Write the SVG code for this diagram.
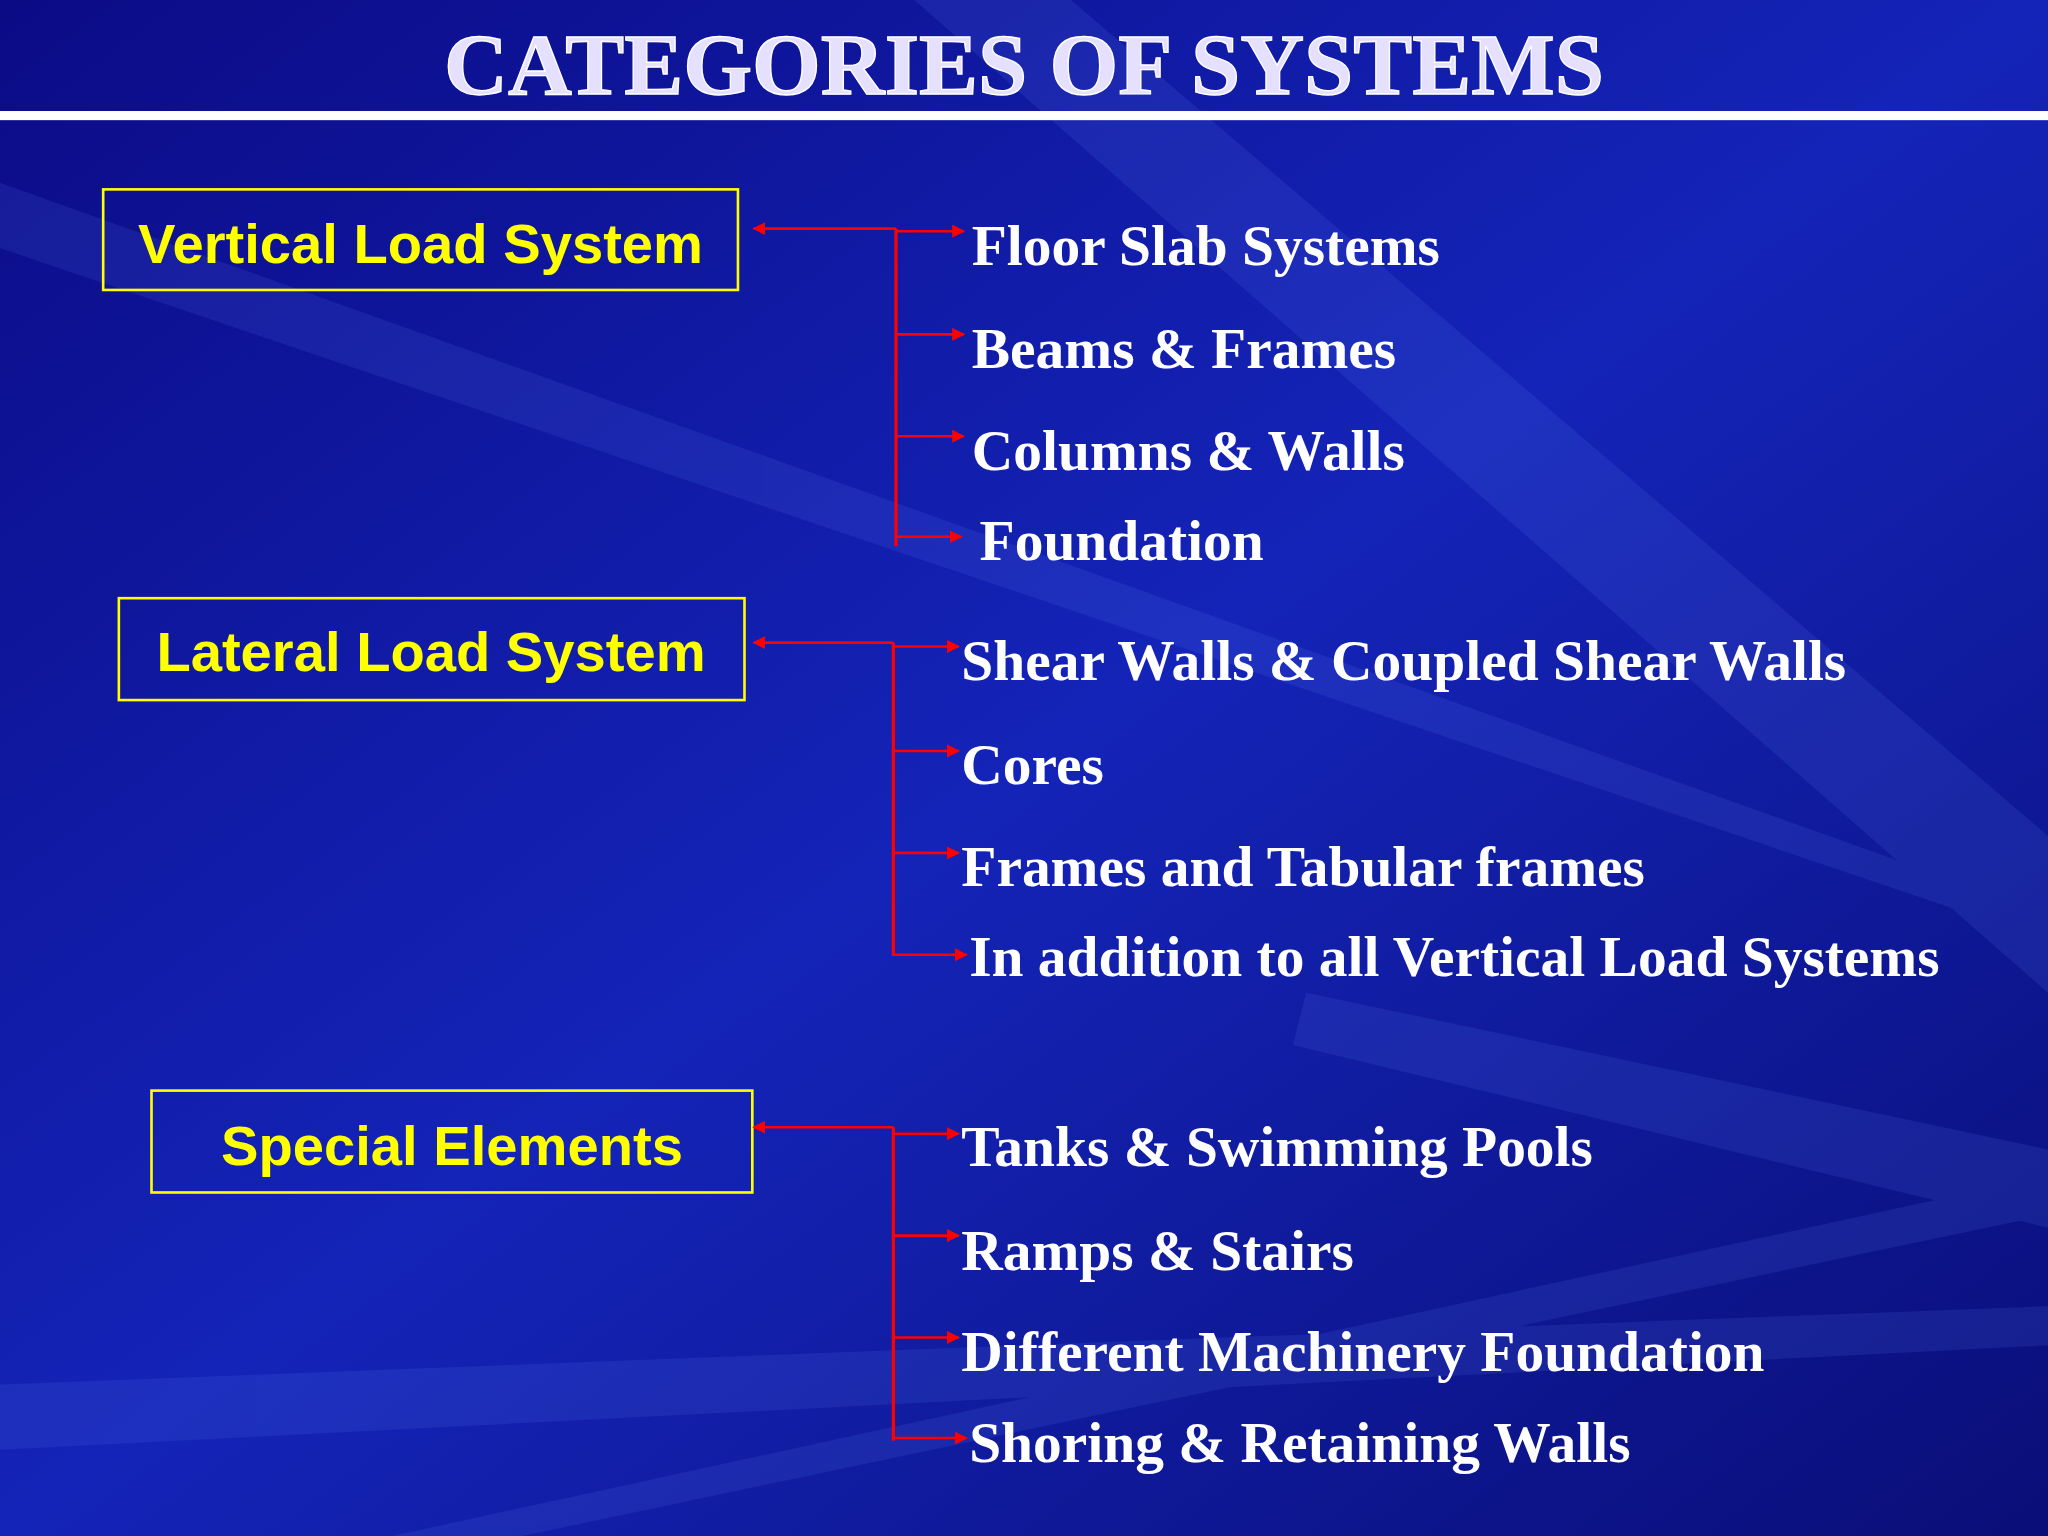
<svg xmlns="http://www.w3.org/2000/svg" width="2048" height="1536" viewBox="0 0 2048 1536">
<defs>
<linearGradient id="bg" x1="0" y1="0" x2="1" y2="1">
<stop offset="0" stop-color="#0b0b86"/><stop offset="0.5" stop-color="#1424b8"/><stop offset="1" stop-color="#0a0e78"/>
</linearGradient>
<marker id="ah" viewBox="0 0 10 10" refX="9" refY="5" markerWidth="5" markerHeight="5" orient="auto-start-reverse"><path d="M0,0L10,5L0,10z" fill="#ff0000"/></marker>
<style>
.box{fill:none;stroke:#ffff00;stroke-width:2}
.bt{font-family:"Liberation Sans",Arial,sans-serif;font-weight:bold;font-size:43px;fill:#ffff00;text-anchor:middle}
.it{font-family:"Liberation Serif","Times New Roman",serif;font-weight:bold;font-size:44px;fill:#ffffff}
.c{stroke:#ff0000;stroke-width:2.5;fill:none}
.a{stroke:#ff0000;stroke-width:2;fill:none;marker-end:url(#ah)}
</style>
</defs>
<rect width="2048" height="1536" fill="url(#bg)"/>
<g transform="scale(1.30612)">
<g opacity="0.12" fill="#6a8cff">
<polygon points="1568,640 1568,760 700,0 820,0"/>
<polygon points="1000,760 1568,880 1568,940 990,800"/>
<polygon points="0,1060 1568,1000 1568,1030 0,1110"/>
<polygon points="0,140 1568,700 1568,720 0,190"/>
<polygon points="300,1176 1568,900 1568,930 400,1176"/>
</g>
<text x="340" y="72" textLength="888" lengthAdjust="spacingAndGlyphs" font-family="'Liberation Serif',serif" font-weight="bold" font-size="66" fill="#e6e0ff" stroke="#ffffff" stroke-width="1">CATEGORIES OF SYSTEMS</text>
<rect x="0" y="85" width="1568" height="7" fill="#ffffff"/>
<g id="vertical"><rect class="box" x="79" y="145" width="486" height="77"/><text class="bt" x="322" y="201">Vertical Load System</text></g>
<g id="lateral"><rect class="box" x="91" y="458" width="479" height="78"/><text class="bt" x="330" y="514">Lateral Load System</text></g>
<g id="special"><rect class="box" x="116" y="835" width="460" height="78"/><text class="bt" x="346" y="892">Special Elements</text></g>
<g id="items">
<text class="it" x="744" y="203">Floor Slab Systems</text>
<text class="it" x="744" y="282">Beams &amp; Frames</text>
<text class="it" x="744" y="360">Columns &amp; Walls</text>
<text class="it" x="750" y="429">Foundation</text>
<text class="it" x="736" y="521">Shear Walls &amp; Coupled Shear Walls</text>
<text class="it" x="736" y="600">Cores</text>
<text class="it" x="736" y="678">Frames and Tabular frames</text>
<text class="it" x="742" y="747">In addition to all Vertical Load Systems</text>
<text class="it" x="736" y="893">Tanks &amp; Swimming Pools</text>
<text class="it" x="736" y="972">Ramps &amp; Stairs</text>
<text class="it" x="736" y="1050">Different Machinery Foundation</text>
<text class="it" x="742" y="1119">Shoring &amp; Retaining Walls</text>
</g>
<g id="connectors">
<path class="c" d="M686,175V418"/>
<path class="a" d="M686,175H577"/>
<path class="a" d="M686,177H738"/><path class="a" d="M686,256H738"/><path class="a" d="M686,334H738"/><path class="a" d="M686,411H736"/>
<path class="c" d="M684,492V732"/>
<path class="a" d="M684,492H577"/>
<path class="a" d="M684,495H734"/><path class="a" d="M684,575H734"/><path class="a" d="M684,653H734"/><path class="a" d="M684,731H740"/>
<path class="c" d="M684,863V1103"/>
<path class="a" d="M684,863H577"/>
<path class="a" d="M684,868H734"/><path class="a" d="M684,946H734"/><path class="a" d="M684,1024H734"/><path class="a" d="M684,1101H740"/>
</g>
</g>
</svg>
